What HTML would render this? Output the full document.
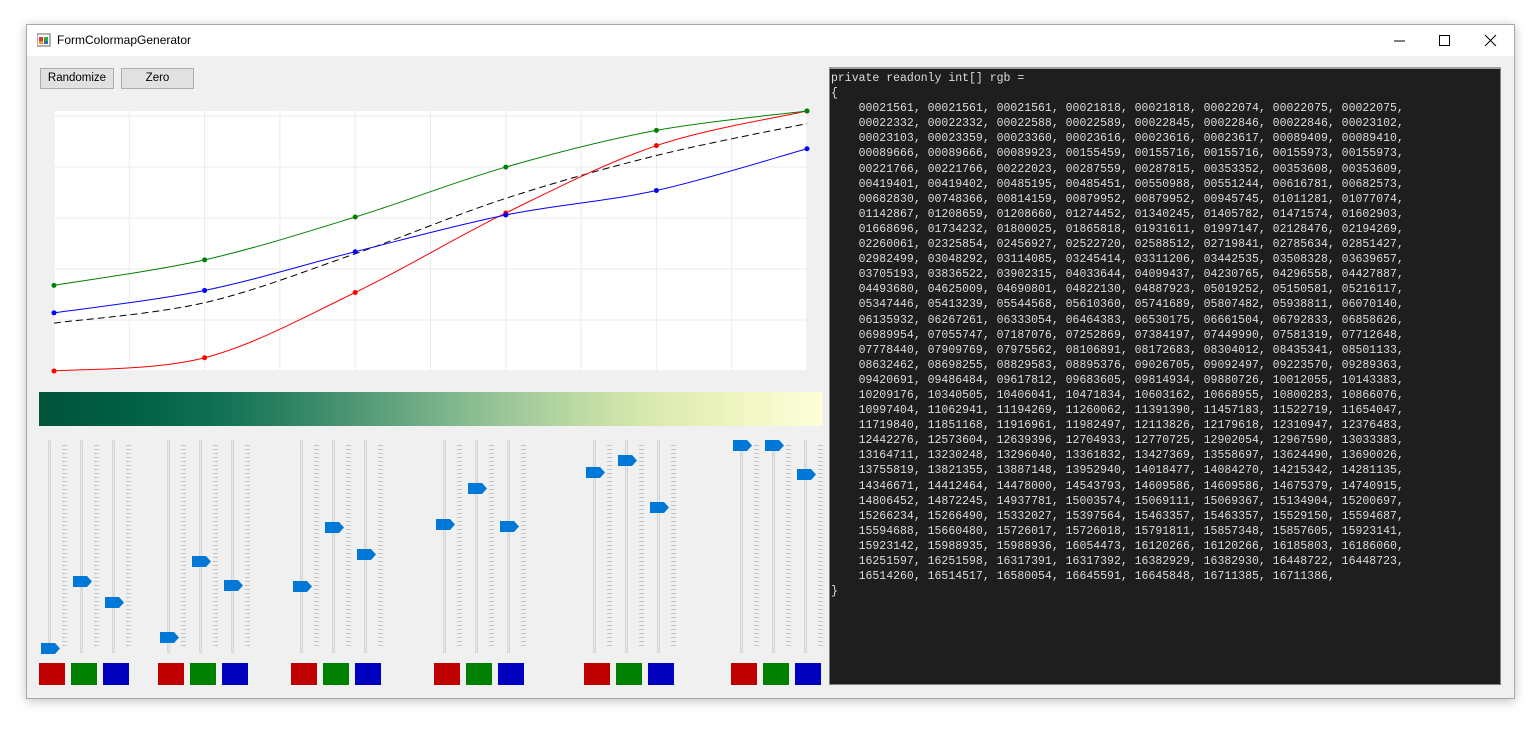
<!DOCTYPE html>
<html><head><meta charset="utf-8">
<style>
body{margin:0;width:1537px;height:729px;background:#fff;position:relative;overflow:hidden;font-family:"Liberation Sans",sans-serif;}
.win{position:absolute;left:26px;top:24px;width:1487px;height:673px;background:#f0f0f0;border:1px solid #aaa;box-shadow:0 2px 10px rgba(0,0,0,0.25);}
.title{position:absolute;left:0;top:0;width:1487px;height:31px;background:#fff;}
.title span{position:absolute;left:30px;top:8px;font-size:12px;color:#000;}
.btn{position:absolute;height:19px;background:#e1e1e1;border:1px solid #adadad;font-size:11.5px;text-align:center;line-height:19px;color:#000;}
.code{position:absolute;left:802px;top:42px;width:670px;height:615px;background:#1e1e1e;border:1px solid #828282;border-top:2px solid #a0a0a0;}
.code pre{margin:0;position:absolute;left:1px;top:2px;font-family:"Liberation Mono",monospace;font-size:11.5px;line-height:15.1px;color:#dcdcdc;}
.track{position:absolute;width:3px;height:213px;background:#e7e7e7;border:1px solid #d6d6d6;box-sizing:border-box;}
.tick{position:absolute;width:5px;height:1px;background:#c4c4c4;}
.thumb{position:absolute;width:19px;height:11px;}
.sw{position:absolute;width:26px;height:22px;top:663px;}
</style></head>
<body>
<div class="win">
 <div class="title">
  <svg style="position:absolute;left:10px;top:8px" width="14" height="14"><rect x="0" y="1" width="13" height="12" fill="#fff" stroke="#666"/><rect x="2" y="4" width="4" height="4" fill="#d33"/><rect x="7" y="4" width="4" height="4" fill="#3a3"/><rect x="2" y="8" width="4" height="3" fill="#e90"/><rect x="7" y="8" width="4" height="3" fill="#36c"/></svg>
  <span>FormColormapGenerator</span>
  <svg style="position:absolute;left:1364px;top:8px" width="120" height="16">
   <line x1="3" y1="8" x2="14" y2="8" stroke="#000"/>
   <rect x="48.5" y="2.5" width="10" height="10" fill="none" stroke="#000"/>
   <path d="M94 2 L105 13 M105 2 L94 13" stroke="#000"/>
  </svg>
 </div>
 <div class="btn" style="left:13px;top:43px;width:72px">Randomize</div>
 <div class="btn" style="left:94px;top:43px;width:71px">Zero</div>
 <div class="code"><pre id="code"></pre></div>
</div>
<svg id="chart" style="position:absolute;left:0;top:0" width="1537" height="729"></svg>
<div id="bar" style="position:absolute;left:39px;top:392px;width:783px;height:34px"></div>
<div id="sliders"></div>
<script>
const rgbValues=[21561,21561,21561,21818,21818,22074,22075,22075,
22332,22332,22588,22589,22845,22846,22846,23102,
23103,23359,23360,23616,23616,23617,89409,89410,
89666,89666,89923,155459,155716,155716,155973,155973,
221766,221766,222023,287559,287815,353352,353608,353609,
419401,419402,485195,485451,550988,551244,616781,682573,
682830,748366,814159,879952,879952,945745,1011281,1077074,
1142867,1208659,1208660,1274452,1340245,1405782,1471574,1602903,
1668696,1734232,1800025,1865818,1931611,1997147,2128476,2194269,
2260061,2325854,2456927,2522720,2588512,2719841,2785634,2851427,
2982499,3048292,3114085,3245414,3311206,3442535,3508328,3639657,
3705193,3836522,3902315,4033644,4099437,4230765,4296558,4427887,
4493680,4625009,4690801,4822130,4887923,5019252,5150581,5216117,
5347446,5413239,5544568,5610360,5741689,5807482,5938811,6070140,
6135932,6267261,6333054,6464383,6530175,6661504,6792833,6858626,
6989954,7055747,7187076,7252869,7384197,7449990,7581319,7712648,
7778440,7909769,7975562,8106891,8172683,8304012,8435341,8501133,
8632462,8698255,8829583,8895376,9026705,9092497,9223570,9289363,
9420691,9486484,9617812,9683605,9814934,9880726,10012055,10143383,
10209176,10340505,10406041,10471834,10603162,10668955,10800283,10866076,
10997404,11062941,11194269,11260062,11391390,11457183,11522719,11654047,
11719840,11851168,11916961,11982497,12113826,12179618,12310947,12376483,
12442276,12573604,12639396,12704933,12770725,12902054,12967590,13033383,
13164711,13230248,13296040,13361832,13427369,13558697,13624490,13690026,
13755819,13821355,13887148,13952940,14018477,14084270,14215342,14281135,
14346671,14412464,14478000,14543793,14609586,14609586,14675379,14740915,
14806452,14872245,14937781,15003574,15069111,15069367,15134904,15200697,
15266234,15266490,15332027,15397564,15463357,15463357,15529150,15594687,
15594688,15660480,15726017,15726018,15791811,15857348,15857605,15923141,
15923142,15988935,15988936,16054473,16120266,16120266,16185803,16186060,
16251597,16251598,16317391,16317392,16382929,16382930,16448722,16448723,
16514260,16514517,16580054,16645591,16645848,16711385,16711386];
const redPts=[0,13,77,155,221,255];
const greenPts=[84,109,151,200,236,255];
const bluePts=[57,79,117,153,177,218];

let lines=["private readonly int[] rgb =","{"];
for(let i=0;i<rgbValues.length;i+=8){
  lines.push("    "+rgbValues.slice(i,i+8).map(v=>String(v).padStart(8,"0")+",").join(" "));
}
lines.push("}");
document.getElementById('code').textContent=lines.join("\n");

const bar=document.getElementById('bar');
const stops=rgbValues.map((v,i)=>`rgb(${v>>16},${(v>>8)&255},${v&255}) ${(i/(rgbValues.length-1)*100).toFixed(2)}%`);
bar.style.background=`linear-gradient(to right,${stops.join(',')})`;

const NS="http://www.w3.org/2000/svg";
const svg=document.getElementById('chart');
const X0=54,X1=807,Y0=371,Y1=111;
const xs=i=>X0+(X1-X0)*i/(redPts.length-1);
const ys=v=>Y0-(Y0-Y1)*v/255;
function mk(t,a,name,inter){const e=document.createElementNS(NS,t);for(const k in a)e.setAttribute(k,a[k]);


svg.appendChild(e);return e;}
mk('rect',{x:X0,y:Y1,width:X1-X0,height:Y0-Y1,fill:'#fff'},'plot-area','false');
for(let k=0;k<=10;k++){const x=X0+(X1-X0)*k/10;mk('line',{x1:x,x2:x,y1:Y1,y2:Y0,stroke:'#ebebeb'},'grid-line-vertical','false');}
for(let k=0;k<=5;k++){const y=Y0-51*k;mk('line',{x1:X0,x2:X1,y1:y,y2:y,stroke:'#ebebeb'},'grid-line-horizontal','false');}
function pathFor(vals){
  const P=vals.map((v,i)=>[xs(i),ys(v)]);
  let d=`M${P[0][0]},${P[0][1]}`;
  for(let i=0;i<P.length-1;i++){
    const p0=P[Math.max(0,i-1)],p1=P[i],p2=P[i+1],p3=P[Math.min(P.length-1,i+2)];
    const c1=[p1[0]+(p2[0]-p0[0])/6,p1[1]+(p2[1]-p0[1])/6];
    const c2=[p2[0]-(p3[0]-p1[0])/6,p2[1]-(p3[1]-p1[1])/6];
    d+=` C${c1[0]},${c1[1]} ${c2[0]},${c2[1]} ${p2[0]},${p2[1]}`;
  }
  return d;
}
const meanPts=redPts.map((r,i)=>(r+greenPts[i]+bluePts[i])/3);
mk('path',{d:pathFor(meanPts),fill:'none',stroke:'#000','stroke-dasharray':'7,4','stroke-width':1},'luminance-curve','false');
[['red',redPts,'#f00'],['green',greenPts,'#008000'],['blue',bluePts,'#00f']].forEach(([n,vals,c])=>{
  mk('path',{d:pathFor(vals),fill:'none',stroke:c,'stroke-width':1},n+'-curve','false');
  vals.forEach((v,i)=>{mk('circle',{cx:xs(i),cy:ys(v),r:2.5,fill:c},n+'-point','true');});
});

const groupX=[49,168,301,444,594,741];
const cols=[['red',redPts,'#c00000'],['green',greenPts,'#008000'],['blue',bluePts,'#0000c0']];
const sl=document.getElementById('sliders');
groupX.forEach((gx,g)=>{
  cols.forEach(([n,vals,c],j)=>{
    const tx=gx+32*j;
    const tr=document.createElement('div');tr.className='track';tr.style.left=(tx-1)+'px';tr.style.top='440px';
    
    
    sl.appendChild(tr);
    for(let y=445;y<=648;y+=4){const t=document.createElement('div');t.className='tick';t.style.left=(tx+13)+'px';t.style.top=y+'px';
      
      
      sl.appendChild(t);}
    const cy=648-vals[g]/255*203;
    const th=document.createElementNS(NS,'svg');th.setAttribute('class','thumb');th.setAttribute('width','19');th.setAttribute('height','11');
    th.style.left=(tx-8)+'px';th.style.top=(cy-5.5)+'px';
    th.innerHTML='<path d="M0 0 H14 L19 5.5 L14 11 H0 Z" fill="#0078d7"/>';
    
    
    sl.appendChild(th);
    const sw=document.createElement('div');sw.className='sw';sw.style.left=(gx-10+32*j)+'px';sw.style.background=c;
    
    
    sl.appendChild(sw);
  });
});
</script>
</body></html>
